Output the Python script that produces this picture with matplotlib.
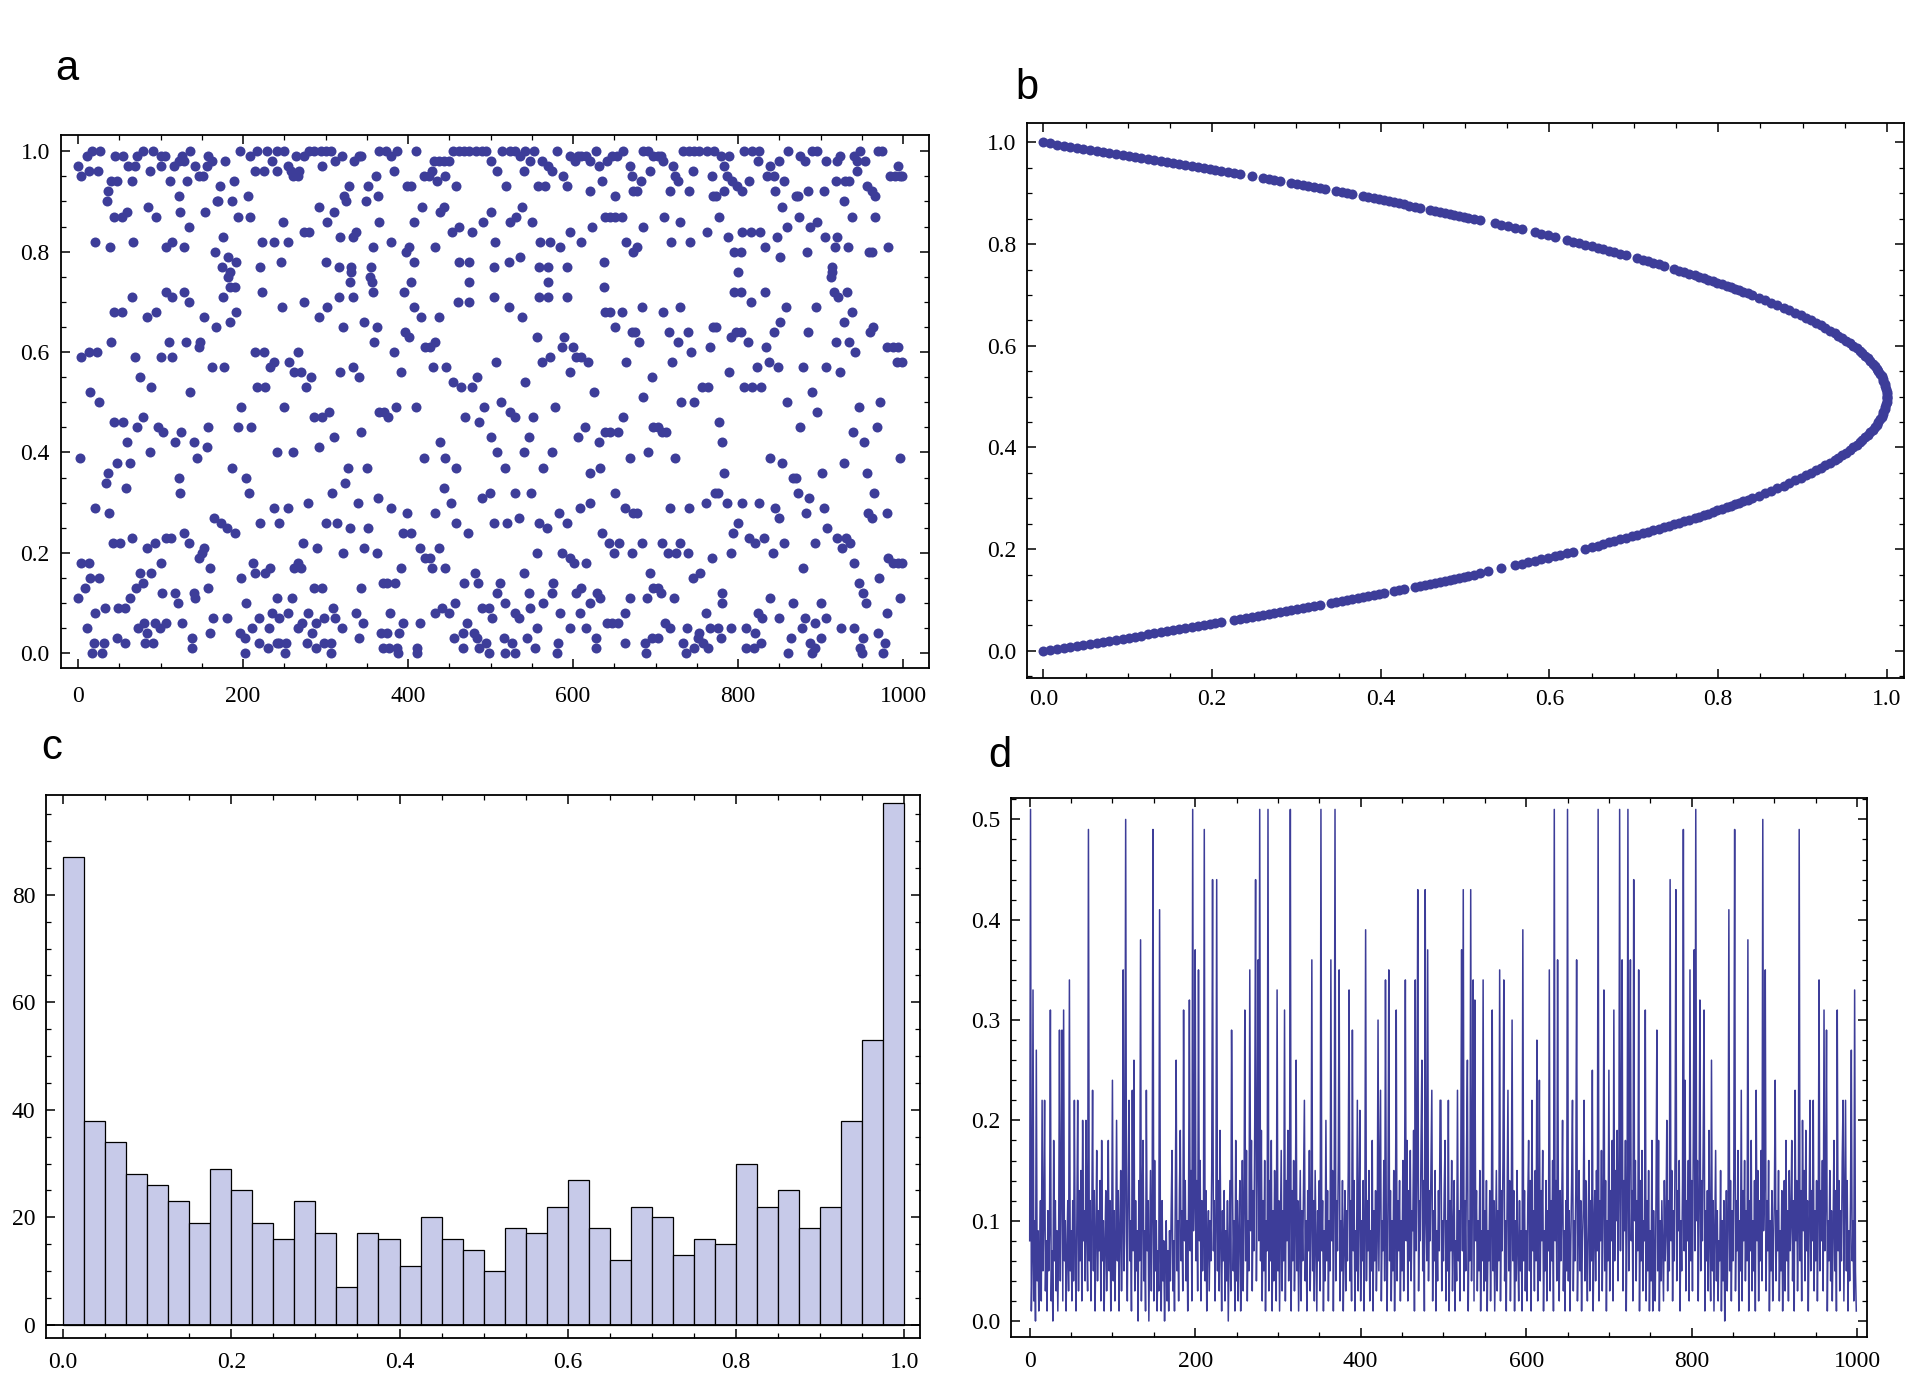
import numpy as np
import matplotlib.pyplot as plt
from matplotlib.ticker import MultipleLocator, FormatStrFormatter

# Constants
FIG_SIZE = (19.11, 13.87)
DPI = 100
DOT = "#3d3d99"
BAR = "#c7cae9"
SERIF = ["Liberation Serif", "DejaVu Serif"]
SANS = ["Liberation Sans", "DejaVu Sans"]

# ---------------- data ----------------
# a: index / value of every dot, read in four strips of the x range
a_idx_1 = [0,0,2,4,4,4,8,11,11,13,13,13,15,15,17,17,19,20,21,21,23,24,25,25,27,29,32,33,34,35,36,36,37,39,40,40,42,43,43,44,45,47,47,47,48,51,53,53,55,55,57,57,58,59,59,61,63,63,65,66,66,67,69,69,70,71,71,73,75,75,79,79,79,80,81,83,83,84,85,87,87,89,89,91,91,93,93,94,95,97,99,101,101,101,101,102,103,105,107,107,107,107,110,111,113,114,114,114,116,118,118,121,122,122,122,124,124,125,126,126,128,128,129,129,131,132,134,134,135,136,136,138,138,140,140,142,142,144,146,146,147,148,150,152,153,153,154,156,156,158,158,158,160,160,162,162,164,165,166,167,168,170,172,173,174,176,176,177,178,180,181,182,182,184,184,184,186,187,189,190,190,192,192,194,194,196,196,198,198,202,202,204,204,206,207,208,208,210,211,212,214,215,215,217,217,219,219,221,221,223,223,225,225,227,227,229,230,231,233,233,235,235,237,237,238,241,241,241,241,241]
a_val_1 = [.97,.11,.39,.95,.59,.18,.13,.99,.05,.96,.60,.18,.52,.15,1.0,0,.02,.08,.29,.82,.60,.96,.50,.15,1.0,0,.02,.09,.34,.90,.92,.36,.28,.81,.94,.62,.22,.87,.68,.46,.99,.94,.38,.03,.09,.22,.87,.68,.99,.46,.09,.02,.33,.88,.42,.97,.38,.11,.94,.71,.23,.82,.97,.59,.13,.99,.45,.05,.55,.16,1.0,.47,.14,.06,.02,.21,.04,.67,.89,.96,.40,.53,.16,1.0,.02,.22,.06,.68,.87,.45,.05,.59,.18,.99,.97,.12,.44,.99,.06,.81,.72,.23,.62,.94,.23,.82,.71,.59,.97,.42,.12,.10,.98,.91,.35,.88,.32,.44,.99,.06,.98,.24,.72,.81,.62,.94,.70,.22,.85,1.0,.52,.03,.01,.42,.12,.97,.11,.39,.95,.61,.19,.62,.20,.95,.21,.67,.88,.97,.41,.99,.45,.13,.04,.17,.98,.57,.07,.27,.80,.65,.90,.90,.93,.26,.77,.83,.71,.57,.98,.07,.25,.79,.75,.76,.73,.66,.90,.37,.94,.73,.24,.78,.68,.87,.45,1.0,.04,.15,.49,.03,0,.35,.10,.91,.32,.99,.87,.45,.05,.18,.60,.96,.16,1.0,.53,.02,.07,.77,.26,.82,.72,.96,.60,.16,.53,1.0,.01,.05,.57,.17,.98,.08,.82,.29,.58,1.0,.96,.40,.11,.02]

a_idx_2 = [250,254,258,264,268,274,280,286,294,300,306,312,320,335,341,343,365,373,379,387,383,409,431,437,443,449,454,462,468,474,482,490,494,500,296,260,266,
           419,425,429,435,445,328,351,361,399,403,458,322,325,349,364,292,310,302,248,365,417,439,443,500,407,
           255,274,280,318,333,337,357,379,397,401,433,453,462,477,491,505,246,300,316,331,331,329,355,354,356,357,407,395,404,462,474,474,504,504,
           247,274,292,302,316,333,321,347,362,359,396,401,407,416,420,427,433,437,460,474,256,266,262,270,276,282,318,333,340,383,392,430,446,454,464,477,483,506,
           250,286,296,304,310,343,365,371,376,385,409,439,445,469,486,492,500,260,292,327,350,419,458,
           308,324,339,364,379,399,433,443,452,458,472,490,499,504,244,254,279,300,314,329,352,394,404,273,290,321,347,362,415,437,421,427,429,445,391,
           262,266,270,286,296,343,369,375,384,468,485,481,259,244,254,266,272,279,288,298,309,312,320,337,345,378,394,389,414,433,441,449,457,471,490,498,502,243,252,251,278,284,288,298,306,306,341,367,369,375,377,387,388,411,411,456,466,466,480,483,486,494,498]
a_val_2 = [1.0,.97,.96,.99,.96,.99,1.0,1.0,1.0,1.0,1.0,.98,.99,.98,.99,.99,1.0,1.0,.99,1.0,.96,1.0,.98,.98,.98,.98,1.0,1.0,1.0,1.0,1.0,1.0,1.0,.98,.97,.95,.95,
           .95,.95,.96,.94,.95,.93,.93,.95,.93,.93,.93,.91,.90,.90,.91,.89,.88,.86,.86,.86,.89,.88,.89,.88,.86,
           .82,.84,.84,.83,.83,.84,.81,.82,.80,.81,.81,.84,.85,.84,.86,.82,.78,.78,.77,.77,.76,.74,.77,.75,.74,.72,.78,.72,.74,.78,.78,.74,.77,.71,
           .69,.70,.67,.69,.71,.71,.65,.66,.65,.62,.64,.63,.69,.67,.61,.61,.62,.67,.70,.70,.58,.60,.56,.56,.53,.55,.56,.57,.55,.60,.56,.57,.57,.54,.53,.53,.55,.58,
           .49,.47,.47,.48,.43,.44,.48,.48,.47,.49,.49,.42,.39,.47,.46,.49,.43,.40,.41,.37,.37,.39,.37,
           .32,.34,.30,.31,.29,.28,.28,.33,.30,.26,.24,.31,.32,.26,.26,.29,.30,.26,.26,.25,.25,.24,.24,.22,.21,.20,.21,.20,.21,.21,.19,.19,.17,.17,.17,
           .17,.18,.17,.13,.13,.13,.14,.14,.14,.14,.14,.16,.11,.07,.08,.05,.06,.08,.06,.07,.09,.07,.05,.08,.06,.08,.06,.04,.06,.08,.09,.08,.10,.06,.09,.09,.07,.02,.02,0,.02,.04,.01,.02,.02,0,.03,.04,.01,.04,.01,.01,0,.01,0,.03,.04,.01,.04,.03,.01,.02,0]

a_idx_3 = [508,514,524,530,536,542,548,540,552,562,570,574,580,596,602,606,610,616,620,628,631,641,647,653,661,669,685,691,697,703,707,709,721,733,741,746,753,762,768,745,693,723,727,
           519,558,566,588,592,620,635,651,671,673,677,682,717,741,769,524,531,538,550,639,645,651,659,685,710,730,762,623,
           560,572,584,596,610,664,673,677,719,742,522,536,559,570,569,593,637,637,522,538,559,570,593,639,645,659,683,709,729,651,
           556,589,586,600,604,610,618,562,572,664,671,675,680,716,727,739,743,720,769,766,542,596,625,695,685,756,764,731,746,
           512,524,530,551,578,508,540,547,518,564,575,606,614,631,639,645,655,660,669,691,697,703,708,712,723,620,633,
           530,549,608,621,651,663,673,677,717,741,761,772,520,535,559,568,583,592,635,643,649,656,671,683,708,715,729,725,739,556,587,596,601,616,768,
           541,511,576,693,745,754,508,518,530,534,548,546,564,574,584,604,610,620,629,632,608,669,689,697,703,707,722,761,556,596,616,641,647,655,663,711,717,738,753,766,516,518,526,530,544,554,582,580,628,628,663,687,688,695,703,733,737,746,751,758,764]
a_val_3 = [.96,1.0,1.0,1.0,.99,1.0,.98,.96,1.0,.98,.97,.96,1.0,.99,.98,.99,.99,.99,.98,1.0,.97,.98,.99,.99,1.0,.97,1.0,1.0,.99,.99,.99,.98,.97,1.0,1.0,1.0,1.0,1.0,.95,.96,.96,.95,.94,
           .93,.93,.93,.95,.93,.92,.94,.91,.95,.92,.92,.94,.92,.92,.91,.86,.87,.89,.86,.87,.87,.87,.87,.85,.87,.86,.84,.85,
           .82,.82,.81,.84,.82,.82,.80,.81,.82,.82,.78,.79,.77,.77,.74,.77,.78,.73,.69,.67,.71,.71,.71,.68,.68,.68,.69,.68,.69,.65,
           .63,.63,.61,.61,.59,.59,.58,.58,.59,.58,.64,.64,.62,.64,.62,.64,.60,.58,.65,.61,.54,.56,.52,.55,.51,.53,.53,.50,.50,
           .50,.48,.47,.47,.49,.40,.40,.43,.37,.37,.40,.43,.45,.42,.44,.44,.44,.47,.39,.40,.45,.45,.44,.44,.39,.36,.37,
           .32,.32,.29,.30,.32,.29,.28,.28,.29,.29,.30,.32,.26,.27,.26,.25,.28,.26,.24,.22,.20,.22,.20,.22,.22,.20,.22,.20,.20,.20,.20,.19,.18,.18,.19,
           .16,.14,.14,.16,.15,.16,.12,.10,.08,.07,.09,.12,.10,.12,.08,.12,.13,.10,.12,.11,.08,.11,.11,.13,.13,.12,.11,.08,.05,.05,.05,.06,.06,.06,.08,.06,.05,.05,.04,.05,.03,0,.02,0,.03,.01,.02,0,.03,.01,.02,.02,0,.03,.03,.02,0,.01,.03,.02,.01]

a_idx_4 = [771,779,783,789,807,817,825,824,839,849,860,875,881,889,896,906,920,924,940,944,948,954,970,974,994,787,793,799,813,835,843,856,918,930,934,944,984,990,996,999,
           773,783,805,845,853,870,873,885,904,928,938,956,962,966,966,777,788,805,815,826,833,847,859,874,887,896,905,920,982,
           795,803,851,883,917,933,958,962,800,914,912,914,795,803,815,833,858,894,916,921,928,938,932,
           773,791,797,803,812,834,837,844,848,851,885,918,934,942,960,964,980,988,994,993,999,823,789,879,906,923,807,817,828,859,889,896,946,972,
           777,781,875,939,952,968,996,839,853,867,870,902,928,956,783,
           775,787,805,825,845,850,873,886,882,904,800,794,813,831,821,842,856,893,908,920,926,931,936,965,957,962,980,791,878,941,946,971,982,988,994,998,
           780,781,839,866,901,951,955,996,824,829,849,881,893,906,925,940,951,980,776,791,809,820,864,877,887,893,900,970,779,809,819,828,861,889,948,950,978,976]
a_val_4 = [1.0,.99,.97,.99,1.0,1.0,1.0,.98,.97,.98,1.0,.99,.98,1.0,1.0,.98,.98,.99,.99,.98,1.0,.98,1.0,1.0,.97,.95,.94,.93,.94,.95,.95,.94,.94,.94,.94,.96,.95,.95,.95,.95,
           .91,.92,.92,.92,.89,.91,.91,.92,.92,.90,.87,.93,.92,.91,.87,.87,.83,.84,.84,.84,.81,.83,.85,.87,.85,.86,.83,.83,.81,
           .80,.80,.79,.80,.81,.81,.80,.80,.76,.77,.75,.76,.72,.72,.70,.72,.69,.69,.72,.71,.66,.68,.72,
           .65,.63,.64,.64,.62,.61,.58,.64,.57,.66,.64,.62,.62,.60,.64,.65,.61,.61,.61,.58,.58,.57,.56,.57,.57,.56,.53,.53,.53,.50,.52,.48,.49,.50,
           .46,.42,.45,.44,.42,.45,.39,.39,.38,.35,.35,.36,.38,.36,.36,
           .32,.30,.30,.30,.29,.27,.32,.31,.28,.29,.26,.24,.23,.23,.22,.20,.22,.22,.25,.23,.21,.23,.22,.32,.28,.27,.28,.20,.17,.18,.14,.15,.19,.18,.18,.18,
           .12,.10,.11,.10,.10,.12,.10,.11,.08,.07,.07,.07,.06,.07,.05,.05,.03,.08,.05,.05,.05,.04,.03,.05,.02,.01,.03,.04,.03,.01,.01,.02,0,0,.01,0,.02,0]

# b: points along the return map (lower branch y < 0.5, upper branch y > 0.5)
b_low_y = [0,.002,.004,.006,.008,.010,.012,.014,.016,.018,.020,.022,.024,.026,.028,.030,.032,.034,.036,.038,.040,.042,.044,.046,.048,.050,
           .052,.054,.056,.060,.062,.064,.066,.068,.070,.072,.074,.076,.078,.080,.082,.084,.086,.088,.090,.094,.096,.098,.100,
           .102,.104,.106,.108,.110,.112,.114,.118,.120,.122,.126,.128,.130,.132,.134,.136,.138,.140,.142,.144,.146,.148,.150,
           .153,.156,.162,.168,.171,.174,.177,.180,.183,.186,.189,.192,.195,.201,.204,.207,.210,.213,.216,.219,.222,.225,.228,.231,.234,.237,.240,.243,.246,.249,.252,.255,.258,.261,.264,.267,.270,.273,.276,.279,.282,.285,.288,.291,.294,.297,.300,
           .305,.310,.315,.320,.325,.330,.335,.340,.345,.350,.355,.360,.365,.370,.375,.380,.385,.390,.395,.400,.405,.410,.415,.420,.425,.430,.435,.440,.445,.450,.455,.460,.465,.470,.475,.480,.485,.490,.495,.500]
b_low_x = [0,.008,.016,.024,.032,.040,.047,.055,.063,.071,.078,.086,.094,.101,.109,.116,.124,.131,.139,.146,.154,.161,.168,.176,.183,.190,
           .197,.204,.211,.226,.233,.240,.247,.254,.260,.267,.274,.281,.288,.294,.301,.308,.314,.321,.328,.341,.347,.354,.360,
           .366,.373,.379,.385,.392,.398,.404,.416,.422,.428,.440,.446,.452,.458,.464,.470,.476,.482,.487,.493,.499,.504,.510,
           .518,.527,.543,.559,.567,.575,.583,.590,.598,.606,.613,.621,.628,.642,.650,.657,.664,.671,.677,.684,.691,.698,.704,.711,.717,.723,.730,.736,.742,.748,.754,.760,.766,.772,.777,.783,.788,.794,.799,.805,.810,.815,.820,.825,.830,.835,.840,
           .848,.856,.863,.870,.878,.884,.891,.898,.904,.910,.916,.922,.927,.932,.938,.942,.947,.952,.956,.960,.964,.968,.971,.974,.978,.980,.983,.986,.988,.990,.992,.994,.995,.996,.998,.998,.999,1.0,1.0,1.0]
b_up_y = [1.0,.998,.996,.994,.992,.990,.988,.986,.984,.982,.980,.978,.976,.974,.972,.970,.968,.966,.964,.962,.960,.958,.956,.954,.952,.950,
          .948,.946,.944,.942,.940,.938,.934,.930,.928,.926,.924,.920,.918,.916,.914,.912,.910,.908,.904,.902,.900,
          .898,.894,.892,.890,.888,.886,.884,.882,.880,.878,.876,.874,.872,.868,.866,.864,.862,.860,.858,.856,.854,.852,.850,
          .847,.841,.838,.835,.832,.829,.823,.820,.817,.814,.808,.805,.802,.799,.796,.793,.790,.787,.784,.781,.778,.772,.769,.766,.763,.760,.757,.751,.748,.745,.742,.739,.736,.733,.730,.727,.724,.721,.718,.715,.712,.709,.706,.703,.700,
          .695,.690,.685,.680,.675,.670,.665,.660,.655,.650,.645,.640,.635,.630,.625,.620,.615,.610,.605,.600,.595,.590,.585,.580,.575,.570,.565,.560,.555,.550,.545,.540,.535,.530,.525,.520,.515,.510,.505,.500]
b_up_x = [0,.008,.016,.024,.032,.040,.047,.055,.063,.071,.078,.086,.094,.101,.109,.116,.124,.131,.139,.146,.154,.161,.168,.176,.183,.190,
          .197,.204,.211,.219,.226,.233,.247,.260,.267,.274,.281,.294,.301,.308,.314,.321,.328,.334,.347,.354,.360,
          .366,.379,.385,.392,.398,.404,.410,.416,.422,.428,.434,.440,.446,.458,.464,.470,.476,.482,.487,.493,.499,.504,.510,
          .518,.535,.543,.551,.559,.567,.583,.590,.598,.606,.621,.628,.635,.642,.650,.657,.664,.671,.677,.684,.691,.704,.711,.717,.723,.730,.736,.748,.754,.760,.766,.772,.777,.783,.788,.794,.799,.805,.810,.815,.820,.825,.830,.835,.840,
          .848,.856,.863,.870,.878,.884,.891,.898,.904,.910,.916,.922,.927,.932,.938,.942,.947,.952,.956,.960,.964,.968,.971,.974,.978,.980,.983,.986,.988,.990,.992,.994,.995,.996,.998,.998,.999,1.0,1.0,1.0]

# c: histogram counts, 40 equal bins on [0, 1]
hist_counts = [87,38,34,28,26,23,19,29,25,19,16,23,17,7,17,16,11,20,16,14,
               10,18,17,22,27,18,12,22,20,13,16,15,30,22,25,18,22,38,53,97]

# d: series values in hundredths, one row per 50 steps
d_pct = [8,51,1,6,33,2,10,0,27,4,9,1,7,12,2,22,5,10,22,3,8,1,11,5,9,31,2,7,0,18,6,12,3,9,1,8,29,4,13,29,2,31,6,10,1,7,12,3,34,5,
         9,2,12,4,22,7,1,10,22,3,13,6,15,2,20,8,11,4,20,9,3,49,6,12,2,9,23,5,13,1,8,17,4,11,7,14,2,18,6,10,1,8,13,3,9,18,5,12,1,7,
         24,4,11,2,8,20,6,13,1,9,15,3,10,35,5,12,50,8,2,14,22,6,10,1,23,7,26,3,12,5,9,0,14,6,38,2,11,18,4,9,1,23,7,12,0,8,15,3,10,49,
         2,16,5,10,1,7,3,41,6,1,12,4,8,0,6,10,2,7,1,9,4,11,17,3,8,1,12,26,5,10,2,13,19,6,11,3,31,8,14,4,10,1,12,32,7,15,2,51,9,13,
         37,6,14,3,35,8,16,2,12,5,9,49,4,13,1,8,11,3,10,6,15,44,7,12,2,9,44,5,14,3,19,8,1,11,6,13,2,9,4,12,0,7,14,3,29,15,5,10,1,18,
         4,12,2,9,14,1,7,16,3,11,31,6,17,2,10,5,35,9,18,3,13,7,20,44,4,15,36,8,51,6,19,2,12,5,16,1,10,7,51,3,14,6,18,1,11,4,15,8,2,33,
         5,12,1,9,17,3,11,6,31,2,14,8,19,4,10,51,1,13,6,16,3,9,26,5,12,1,8,15,2,11,6,14,22,4,10,1,13,7,17,3,9,36,5,12,2,15,8,1,11,6,
         14,3,51,7,12,1,9,4,20,6,13,2,10,5,36,8,15,1,11,51,4,12,7,16,35,2,10,5,14,1,8,13,3,11,6,15,33,4,12,2,29,7,14,1,9,5,22,3,11,21,
         2,10,6,14,1,8,39,4,12,7,15,2,9,5,18,1,11,6,13,3,8,30,5,14,23,2,10,7,16,4,34,9,1,12,35,6,13,2,10,5,15,1,9,31,4,12,7,14,2,10,
         5,16,3,12,34,8,18,2,13,6,17,4,11,9,19,1,34,7,15,43,3,12,8,18,26,5,14,1,43,10,6,37,4,13,8,16,23,2,11,6,15,1,9,4,13,7,22,22,3,10,
         6,13,18,2,10,5,22,1,12,7,16,3,9,14,1,8,4,23,6,11,2,15,37,7,43,3,12,5,17,26,1,10,6,43,4,14,34,2,32,8,13,3,10,5,15,1,9,6,34,3,
         11,4,14,1,9,6,13,2,10,31,5,12,1,8,15,3,11,6,35,2,13,7,16,34,4,10,1,12,23,5,14,2,9,30,6,13,1,10,4,15,7,2,12,5,9,1,39,6,13,3,
         9,2,12,18,5,14,1,22,7,11,3,15,6,28,2,10,24,4,13,8,17,1,9,5,14,2,11,7,35,3,12,6,16,1,51,8,14,4,36,10,2,13,6,11,20,3,9,1,12,5,
         51,4,11,1,8,14,22,3,10,6,13,36,2,9,15,5,12,1,8,11,22,4,14,7,2,10,16,3,12,6,25,1,9,13,4,15,7,51,2,12,8,17,3,11,33,5,14,1,10,6,
         25,3,13,8,18,2,31,6,15,10,19,4,12,51,7,16,36,3,14,9,18,1,11,51,5,17,36,8,13,2,44,10,16,4,12,7,35,1,14,6,17,3,10,8,31,2,12,5,15,1,
         9,4,18,1,11,6,2,13,29,5,18,1,10,4,12,7,2,14,6,9,20,3,12,5,44,8,15,2,11,6,17,43,4,13,9,16,1,10,5,14,49,7,24,3,12,8,16,2,35,6,
         14,3,18,37,7,51,10,16,2,12,32,5,14,8,18,31,1,11,6,13,3,19,8,2,26,5,12,1,9,17,4,11,2,8,6,15,1,10,4,12,0,7,13,3,9,41,5,14,2,11,
         6,15,49,3,12,7,17,1,10,5,23,2,13,8,16,4,11,6,38,1,12,7,18,3,10,5,14,1,23,8,15,2,12,6,17,4,50,9,14,35,3,12,7,16,1,10,5,13,2,8,
         12,24,4,11,7,15,2,9,5,13,1,8,14,3,18,6,11,2,15,7,10,18,4,12,1,23,8,14,3,10,49,6,13,2,20,9,15,4,19,7,12,1,10,22,5,13,8,22,3,11,
         6,14,2,10,34,5,13,8,16,3,31,7,12,29,1,10,6,15,4,11,2,9,18,5,13,1,31,7,14,3,11,6,16,22,2,12,22,5,14,1,9,4,12,27,6,10,2,33,5,1]

# ---------------- assemble ----------------
def pair(xs, ys):
    n = min(len(xs), len(ys))
    return np.asarray(xs[:n], float), np.asarray(ys[:n], float)

a_x, a_y = pair(a_idx_1 + a_idx_2 + a_idx_3 + a_idx_4,
                a_val_1 + a_val_2 + a_val_3 + a_val_4)
bl_x, bl_y = pair(b_low_x, b_low_y)
bu_x, bu_y = pair(b_up_x, b_up_y)
hist_edges = np.linspace(0, 1, len(hist_counts) + 1)
d_y = np.asarray(d_pct, float) / 100
d_x = np.arange(len(d_y))

plt.rcParams.update({
    "font.family": SERIF,
    "font.size": 17,
    "axes.linewidth": 1.3,
})


def frame(ax, xlim, ylim, xstep, ystep, xfmt, yfmt, xpad, ypad):
    ax.set_xlim(*xlim)
    ax.set_ylim(*ylim)
    ax.xaxis.set_major_locator(MultipleLocator(xstep[0]))
    ax.xaxis.set_minor_locator(MultipleLocator(xstep[1]))
    ax.yaxis.set_major_locator(MultipleLocator(ystep[0]))
    ax.yaxis.set_minor_locator(MultipleLocator(ystep[1]))
    ax.xaxis.set_major_formatter(FormatStrFormatter(xfmt))
    ax.yaxis.set_major_formatter(FormatStrFormatter(yfmt))
    ax.tick_params(which="both", direction="in", top=True, right=True, colors="black")
    ax.tick_params(which="major", length=6.5, width=1.1)
    ax.tick_params(which="minor", length=3.5, width=0.9)
    ax.tick_params(axis="x", pad=xpad)
    ax.tick_params(axis="y", pad=ypad)


fig = plt.figure(figsize=FIG_SIZE, dpi=DPI)

# a
ax = fig.add_axes([0.0319, 0.5185, 0.4541, 0.3840])
ax.plot(a_x, a_y, "o", ms=7.2, color=DOT, mec="none")
frame(ax, (-20.7, 1031), (-0.029, 1.032), (200, 50), (0.2, 0.05), "%d", "%.1f", 13, 8)

# b
ax = fig.add_axes([0.5376, 0.5114, 0.4586, 0.3998])
ax.plot(bl_x, bl_y, "o", ms=7.2, color=DOT, mec="none")
ax.plot(bu_x, bu_y, "o", ms=7.2, color=DOT, mec="none")
frame(ax, (-0.019, 1.020), (-0.053, 1.038), (0.2, 0.05), (0.2, 0.05), "%.1f", "%.1f", 8, 8)

# c
ax = fig.add_axes([0.0242, 0.0351, 0.4573, 0.3919])
ax.bar(hist_edges[:-1], hist_counts, width=np.diff(hist_edges), align="edge",
       color=BAR, edgecolor="black", linewidth=0.9)
ax.axhline(0, color="black", lw=1.3)
frame(ax, (-0.020, 1.019), (-2.5, 98.6), (0.2, 0.05), (20, 5), "%.1f", "%d", 10, 8)

# d
ax = fig.add_axes([0.5293, 0.0360, 0.4477, 0.3884])
ax.plot(d_x, d_y, color=DOT, lw=1.1)
frame(ax, (-22, 1012), (-0.016, 0.521), (200, 50), (0.1, 0.02), "%d", "%.1f", 10, 8)

# panel letters
for lbl, x, y in [("a", 0.035, 0.950), ("b", 0.5376, 0.9367),
                  ("c", 0.0268, 0.4605), ("d", 0.523, 0.455)]:
    fig.text(x, y, lbl, ha="center", va="center", fontsize=30, family=SANS)

fig.savefig("out.png", dpi=DPI)
plt.close(fig)
